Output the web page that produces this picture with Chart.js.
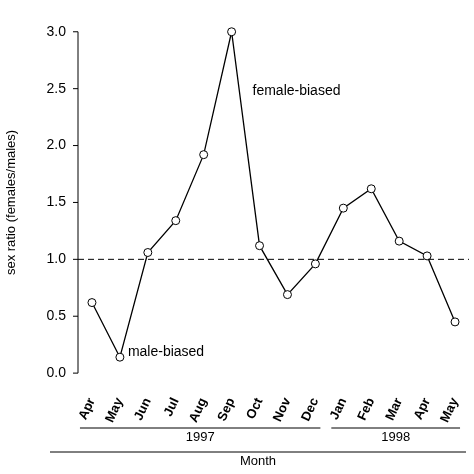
<!DOCTYPE html>
<html>
<head>
<meta charset="utf-8">
<script src="https://cdn.jsdelivr.net/npm/chart.js@4"></script>
<style>
  body { margin: 0; background: #fff; }
  #wrap { width: 474px; height: 474px; }
</style>
</head>
<body>
<div id="wrap"><canvas id="myChart"></canvas></div>
<script>
const months = ['Apr', 'May', 'Jun', 'Jul', 'Aug', 'Sep', 'Oct', 'Nov', 'Dec', 'Jan', 'Feb', 'Mar', 'Apr', 'May'];
const ratios = [0.62, 0.14, 1.06, 1.34, 1.92, 3.0, 1.12, 0.69, 0.96, 1.45, 1.62, 1.16, 1.03, 0.45];
const yTicks = [0, 0.5, 1, 1.5, 2, 2.5, 3];
const years = [{ label: '1997', from: 0, to: 8 }, { label: '1998', from: 9, to: 13 }];

const extras = {
  id: 'extras',
  afterDraw(chart) {
    const ctx = chart.ctx;
    const x = chart.scales.x, y = chart.scales.y;
    const left = chart.chartArea.left;
    ctx.save();
    ctx.strokeStyle = '#000';
    ctx.lineWidth = 1;
    // y axis line over tick range, with tick marks
    ctx.beginPath();
    ctx.moveTo(left, y.getPixelForValue(0));
    ctx.lineTo(left, y.getPixelForValue(3));
    yTicks.forEach(v => {
      ctx.moveTo(left, y.getPixelForValue(v));
      ctx.lineTo(left - 5, y.getPixelForValue(v));
    });
    ctx.stroke();
    // reference line at 1
    ctx.setLineDash([6, 4]);
    ctx.beginPath();
    ctx.moveTo(left, y.getPixelForValue(1));
    ctx.lineTo(chart.chartArea.right, y.getPixelForValue(1));
    ctx.stroke();
    ctx.setLineDash([]);
    ctx.fillStyle = '#000';
    ctx.font = '14px "Liberation Sans", Arial, sans-serif';
    ctx.textAlign = 'left';
    ctx.textBaseline = 'middle';
    ctx.fillText('female-biased', x.getPixelForValue(6) - 7, y.getPixelForValue(2.48));
    ctx.fillText('male-biased', x.getPixelForValue(1) + 8, y.getPixelForValue(0.18));
    // year groups
    ctx.textAlign = 'center';
    ctx.textBaseline = 'top';
    ctx.font = '13px "Liberation Sans", Arial, sans-serif';
    years.forEach(g => {
      const a = x.getPixelForValue(g.from) - 12, b = x.getPixelForValue(g.to) + 5;
      ctx.beginPath();
      ctx.moveTo(a, 428); ctx.lineTo(b, 428); ctx.stroke();
      ctx.fillText(g.label, (a + b) / 2, 431);
    });
    ctx.beginPath();
    ctx.moveTo(50, 452); ctx.lineTo(466, 452); ctx.stroke();
    ctx.fillText('Month', (50 + 466) / 2, 455);
    ctx.restore();
  }
};

new Chart(document.getElementById('myChart'), {
  type: 'line',
  data: {
    labels: months,
    datasets: [{
      data: ratios,
      borderColor: '#000',
      borderWidth: 1.3,
      pointRadius: 4,
      pointBorderWidth: 1,
      pointBackgroundColor: '#fff',
      pointBorderColor: '#000',
      tension: 0
    }]
  },
  options: {
    responsive: true,
    maintainAspectRatio: false,
    animation: false,
    layout: { padding: { top: 8, right: 3, bottom: 46, left: 0 } },
    plugins: { legend: { display: false }, tooltip: { enabled: false } },
    scales: {
      x: {
        offset: true,
        grid: { display: false },
        border: { display: false },
        ticks: {
          color: '#000', maxRotation: 65, minRotation: 65, autoSkip: false,
          font: { family: '"Liberation Sans", Arial, sans-serif', size: 13, weight: 'bold' }
        }
      },
      y: {
        min: -0.1, max: 3.1,
        afterBuildTicks(s) { s.ticks = yTicks.map(v => ({ value: v })); },
        afterFit(s) { s.width = 78; },
        grid: { display: false, drawTicks: false },
        border: { display: false },
        title: {
          display: true, text: 'sex ratio (females/males)', color: '#000',
          font: { family: '"Liberation Sans", Arial, sans-serif', size: 13 }
        },
        ticks: {
          color: '#000', padding: 12,
          font: { family: '"Liberation Sans", Arial, sans-serif', size: 14 },
          callback: v => v.toFixed(1)
        }
      }
    }
  },
  plugins: [extras]
});
</script>
</body>
</html>
